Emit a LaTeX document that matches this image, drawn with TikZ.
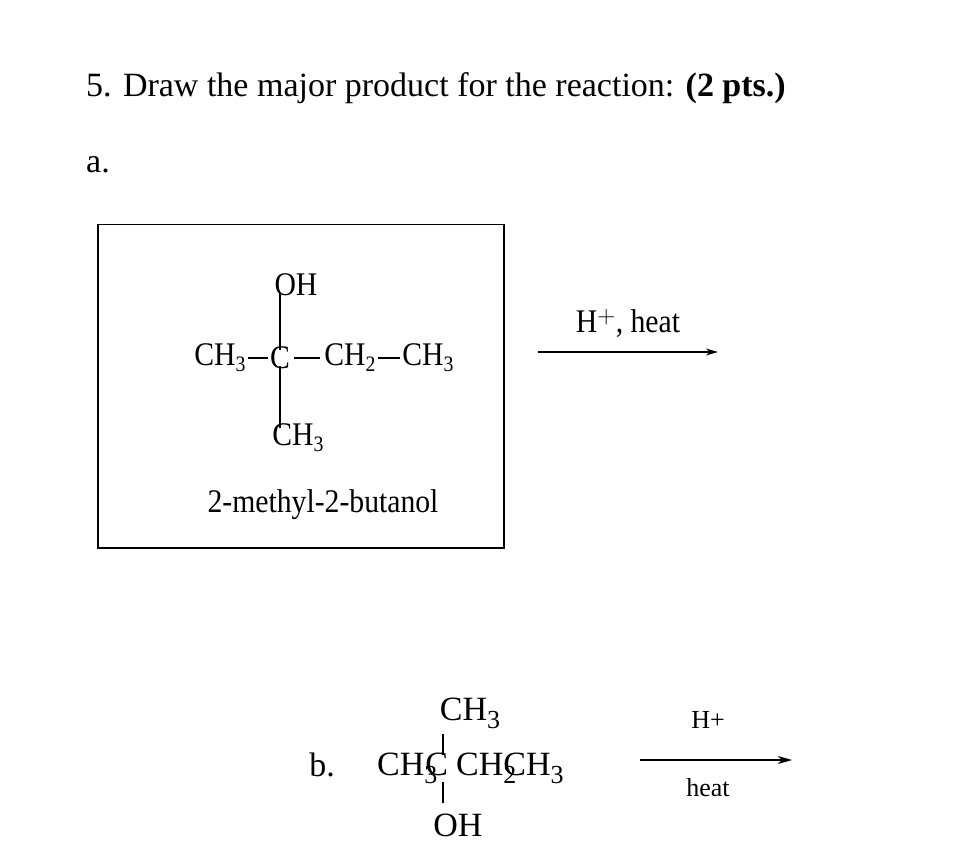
\documentclass[tikz,border=0pt]{standalone}
\usepackage{fontspec}
\setmainfont{Liberation Serif}
\newfontfamily\narrowf[FakeStretch=0.9]{Liberation Serif}
\usetikzlibrary{arrows.meta}
\newcommand{\mysub}[1]{\raisebox{-6pt}{\fontsize{22}{24}\selectfont #1}}
\newcommand{\mysubb}[1]{\raisebox{-8pt}{\fontsize{26}{28}\selectfont #1}}
\begin{document}
\begin{tikzpicture}[x=1pt,y=-1pt,
  big/.style={font=\fontsize{34}{40}\selectfont, inner sep=0pt},
  mol/.style={font=\narrowf\fontsize{33}{38}\selectfont, inner sep=0pt},
  bond/.style={line width=1.3pt},
  bbond/.style={line width=1.1pt}]
\useasboundingbox (0,0) rectangle (980,866);
\node[big, anchor=west] (title) at (86,88) {5. Draw the major product for the reaction: \textbf{(2 pts.)}};
\node[big, anchor=west] (a) at (86,165) {a.};
\node[draw, line width=1.5pt, minimum width=406, minimum height=323, anchor=north west] (box) at (97,224) {};
% molecule a
\node[mol] (oh) at (296,285) {OH};
\node[mol] (c1) at (220,358) {CH\mysub{3}};
\node[mol] (c) at (280,358) {C};
\node[mol] (c3) at (350,358) {CH\mysub{2}};
\node[mol] (c4) at (428,358) {CH\mysub{3}};
\node[mol] (c5) at (298,438) {CH\mysub{3}};
\node[mol] (name) at (323,505) {2-methyl-2-butanol};
\draw[bond] ([xshift=2pt]c1.east) -- ([xshift=-2pt]c.west);
\draw[bond] ([xshift=4pt]c.east) -- ([xshift=-4pt]c3.west);
\draw[bond] ([xshift=2pt]c3.east) -- ([xshift=-2pt]c4.west);
\draw[bond] ([yshift=4pt]oh.south -| c) -- ([yshift=-3pt]c.north);
\draw[bond] ([yshift=3pt]c.south) -- ([yshift=-4pt]c5.north -| c);
\coordinate (a1) at (538,352);
\coordinate (a2) at (718,352);
\draw[bond, -{Stealth[length=12pt,width=7pt]}] (a1) -- (a2) node[mol, midway, above=14pt] (cond) {H$^{+}$, heat};
% part b
\node[big] (b) at (322,765) {b.};
\node[big] (bch3) at (470,713) {CH\mysubb{3}};
\node[big, anchor=west] (brow) at (377,768) {CH\rlap{\mysubb{3}}\kern1pt C\kern8pt CH\rlap{\mysubb{2}}CH\mysubb{3}};
\node[big] (boh) at (458,825) {OH};
\coordinate (v1) at (443,734);
\coordinate (v2) at (443,755);
\coordinate (v3) at (443,782);
\coordinate (v4) at (443,803);
\draw[bbond] (v1) -- (v2);
\draw[bbond] (v3) -- (v4);
\coordinate (b1) at (640,760);
\coordinate (b2) at (792,760);
\draw[bbond, -{Stealth[length=14pt,width=8pt,inset=4pt]}] (b1) -- (b2);
\node[font=\fontsize{26}{30}\selectfont] (hp) at (708,720) {H+};
\node[font=\fontsize{26}{30}\selectfont] (heat) at (708,788) {heat};
\end{tikzpicture}
\end{document}
